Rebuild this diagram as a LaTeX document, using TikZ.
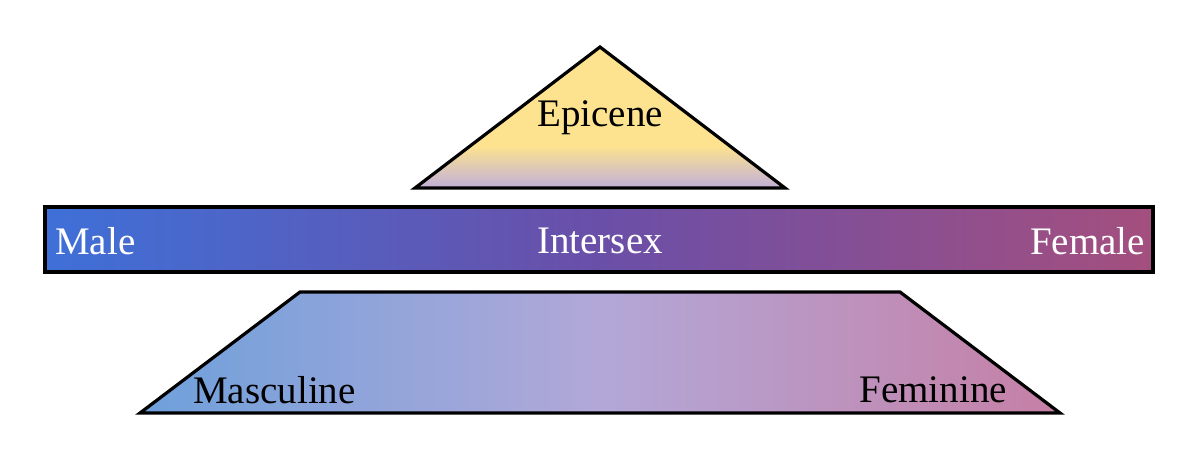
\documentclass[tikz,border=0pt]{standalone}
\usepackage{fontspec}
\setmainfont{Liberation Serif}
\definecolor{ylw}{HTML}{FDE38F}
\definecolor{lav}{HTML}{C5B3D5}
\definecolor{barL}{HTML}{3E70D8}
\definecolor{barM}{HTML}{6A4FA8}
\definecolor{barR}{HTML}{A44F7E}
\definecolor{trL}{HTML}{6EA0DB}
\definecolor{trM}{HTML}{B2A8D8}
\definecolor{trR}{HTML}{C67FA5}
\pgfdeclareverticalshading{tri}{100bp}{color(0bp)=(lav); color(26bp)=(lav); color(40bp)=(ylw); color(100bp)=(ylw)}
\pgfdeclarehorizontalshading{barsh}{100bp}{color(0bp)=(barL); color(25bp)=(barL); color(50bp)=(barM); color(75bp)=(barR); color(100bp)=(barR)}
\pgfdeclarehorizontalshading{trap}{100bp}{color(0bp)=(trL); color(25bp)=(trL); color(50bp)=(trM); color(75bp)=(trR); color(100bp)=(trR)}
\tikzset{outl/.style={draw=black,line width=3.2pt,line join=miter},
lbl/.style={font=\fontsize{39}{44}\selectfont,inner sep=0pt}}
\begin{document}
\begin{tikzpicture}[x=1pt,y=-1pt]
\useasboundingbox[fill=white] (0,0) rectangle (1200,462);
\shade[shading=tri,outl] (600,47) -- (785,188) -- (415,188) -- cycle;
\shade[shading=barsh,outl] (45,207) rectangle (1153,272);
\shade[shading=trap,outl] (300,292) -- (900,292) -- (1060,413) -- (140,413) -- cycle;
\node[lbl] (epi) at (600,118) {Epicene};
\node[lbl,white,anchor=west] (male) at (55,241) {Male};
\node[lbl,white] (inter) at (600,241) {Intersex};
\node[lbl,white,anchor=east] (fem) at (1145,241) {Female};
\node[lbl,anchor=west] (masc) at (193,390) {Masculine};
\node[lbl,anchor=east] (femi) at (1007,390) {Feminine};
\end{tikzpicture}
\end{document}
